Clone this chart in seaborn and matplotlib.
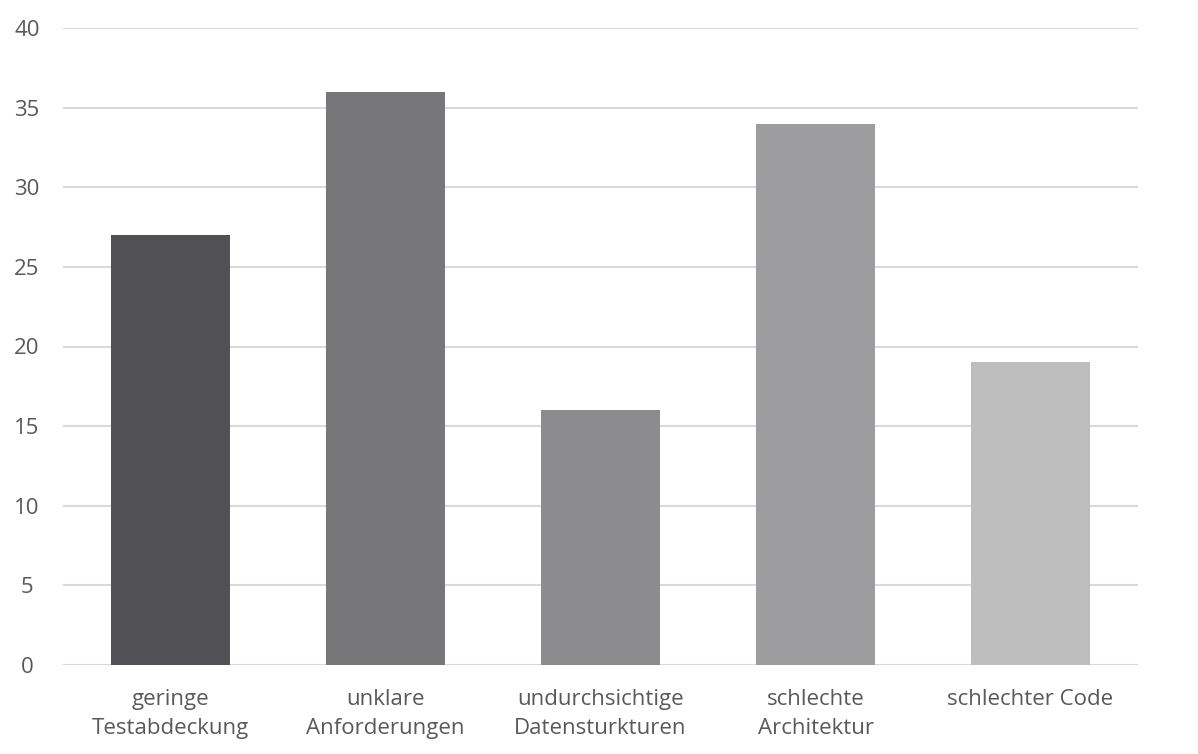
import matplotlib
matplotlib.use("Agg")
import matplotlib.pyplot as plt
import seaborn as sns
import pandas as pd

categories = ["geringe\nTestabdeckung", "unklare\nAnforderungen", "undurchsichtige\nDatensturkturen",
              "schlechte\nArchitektur", "schlechter Code"]
values = [27, 36, 16, 34, 19]
colors = ["#505055", "#77777a", "#8c8c8e", "#9d9d9f", "#bdbdbd"]
yticks = [0, 5, 10, 15, 20, 25, 30, 35, 40]

sns.set_theme(style="white")
plt.rcParams['font.family'] = ['Open Sans', 'DejaVu Sans']

df = pd.DataFrame({"cat": categories, "val": values})

fig = plt.figure(figsize=(11.98, 7.54), dpi=100)
ax = fig.add_axes([63/1198, 1-665/754, (1138-63)/1198, (665-28)/754])
sns.barplot(data=df, x="cat", y="val", hue="cat", palette=colors, legend=False,
            width=0.558, saturation=1, linewidth=0, edgecolor="none", ax=ax, zorder=3)
ax.set_xlim(-0.5, 4.5)
ax.set_ylim(0, 40)
ax.set_yticks(yticks)
ax.yaxis.grid(True, color="#d9d9d9", linewidth=1.5, zorder=0)
ax.set_axisbelow(True)
for s in ax.spines.values():
    s.set_visible(False)
ax.set_xlabel("")
ax.set_ylabel("")
ax.tick_params(axis="both", length=0, labelsize=16, labelcolor="#595959")
ax.tick_params(axis="y", pad=26)
ax.tick_params(axis="x", pad=17)
for lbl in ax.get_yticklabels():
    lbl.set_horizontalalignment("center")
for lbl in ax.get_xticklabels():
    lbl.set_linespacing(1.55)
fig.savefig("out.png", dpi=100)
